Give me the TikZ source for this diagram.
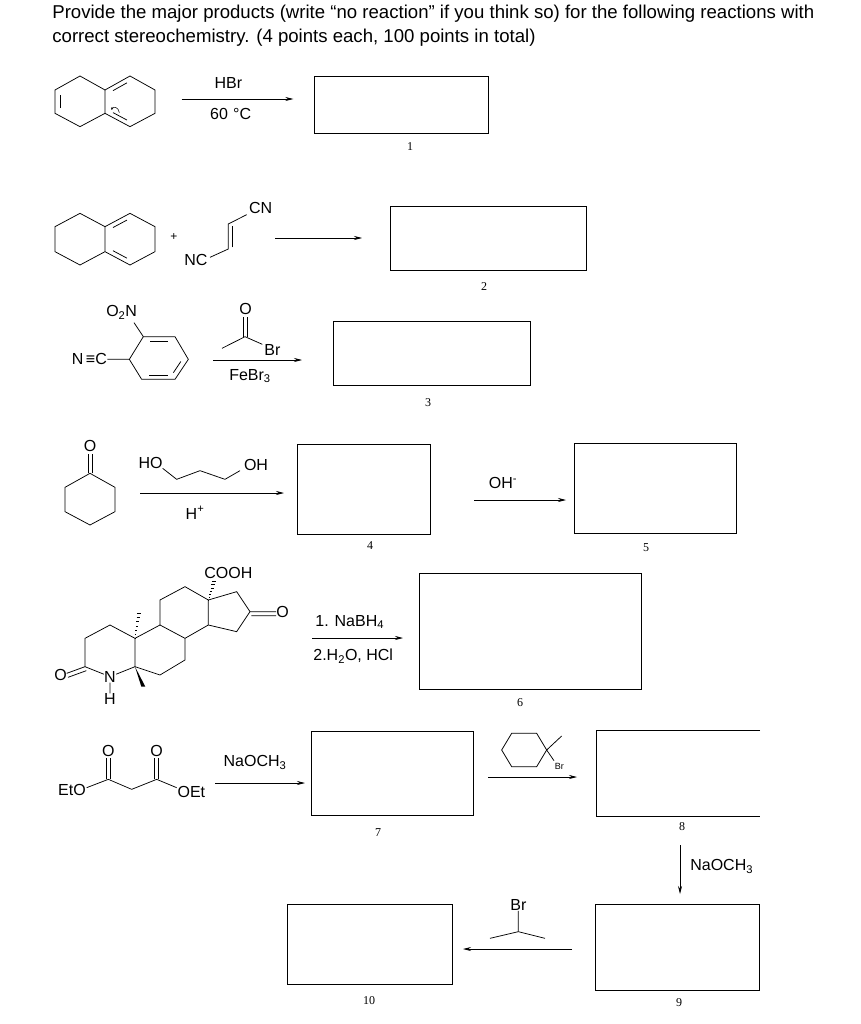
\documentclass[tikz,border=0pt]{standalone}
\usepackage{fontspec}
\setmainfont{Liberation Sans}
\newfontfamily\numfont{Liberation Serif}
\usetikzlibrary{arrows.meta,calc}
\newcommand\ringdb[3]{\draw ($($(#1)!.15!(#2)$)!.2!(#3)$) -- ($($(#2)!.15!(#1)$)!.2!(#3)$);}
\newcommand\hashup[3]{\foreach \k in {0,...,6}{\draw[line width=0.5pt] ($(#1)!\k/6!(#2)$) ++(-{0.5+\k*#3},0) -- ++({1+2*\k*#3},0);}}
\begin{document}
\begin{tikzpicture}[x=1pt,y=-1pt,line width=0.75pt,
  lbl/.style={font=\fontsize{16}{18}\selectfont,inner sep=0pt},
  sm/.style={font=\fontsize{12}{14}\selectfont,inner sep=0pt},
  num/.style={font=\numfont\fontsize{12}{13}\selectfont,inner sep=0pt},
  rx/.style={-{Stealth[length=8pt,width=4pt]},line width=0.7pt},
  box/.style={draw,line width=0.9pt}]
\useasboundingbox (0,0) rectangle (860,1024);
\fill[white] (0,0) rectangle (860,1024);
% title
\node[anchor=west,font=\fontsize{18.6}{22}\selectfont,inner sep=0pt] (t1) at (52,14) {Provide the major products (write “no reaction” if you think so) for the following reactions with};
\node[anchor=west,font=\fontsize{18.6}{22}\selectfont,inner sep=0pt] (t2) at (52,38) {correct stereochemistry. (4 points each, 100 points in total)};

% ===== Row 1 =====
\begin{scope}[shift={(40,60)},scale=1/3]
\coordinate (l1) at (120,48); \coordinate (l2) at (195,90); \coordinate (l3) at (195,160);
\coordinate (l4) at (120,200); \coordinate (l5) at (45,160); \coordinate (l6) at (45,90);
\coordinate (r1) at (270,48); \coordinate (r2) at (345,90); \coordinate (r3) at (345,160); \coordinate (r4) at (270,200);
\coordinate (cl) at (120,125); \coordinate (cr) at (270,125);
\draw (l1)--(l2)--(l3)--(l4)--(l5)--(l6)--cycle;
\draw (l2)--(r1)--(r2)--(r3)--(r4)--(l3);
\ringdb{l5}{l6}{cl} \ringdb{l2}{r1}{cr} \ringdb{l3}{r4}{cr}
\draw[-{Stealth[length=2.5pt,width=2.5pt]},line width=0.5pt] (238,158) .. controls (236,140) and (218,138) .. (215,150);
\coordinate (a1s) at (425,117); \coordinate (a1e) at (760,117);
\node[lbl] (hbr) at (565,68) {HBr};
\node[lbl] (tc) at (572,162) {60\,\,°C};
\end{scope}
\draw[rx] (a1s) -- (a1e);
\node[box,minimum width=174pt,minimum height=57pt,inner sep=0pt] (b1) at (401,104.5) {};
\node[num] (n1) at (410,147) {1};

% ===== Row 2 =====
\begin{scope}[shift={(40,60)},scale=1/3]
\coordinate (m1) at (120,460); \coordinate (m2) at (195,500); \coordinate (m3) at (195,575);
\coordinate (m4) at (120,615); \coordinate (m5) at (45,575); \coordinate (m6) at (45,500);
\coordinate (s1) at (270,460); \coordinate (s2) at (345,500); \coordinate (s3) at (345,575); \coordinate (s4) at (270,615);
\coordinate (cs) at (270,537);
\draw (m1)--(m2)--(m3)--(m4)--(m5)--(m6)--cycle;
\draw (m2)--(s1)--(s2)--(s3)--(s4)--(m3);
\ringdb{m2}{s1}{cs} \ringdb{m3}{s4}{cs}
\node[sm] (plus) at (402,532) {+};
\node[lbl] (nc) at (468,600) {NC};
\node[lbl] (cn) at (662,443) {CN};
\draw (510,592) -- (565,567) -- (565,492) -- (620,464);
\draw (577,562) -- (577,497);
\end{scope}
\draw[rx] (275,238) -- (362,238);
\node[box,minimum width=196pt,minimum height=64pt,inner sep=0pt] (b2) at (488,238) {};
\node[num] (n2) at (484,287) {2};

% ===== Row 3 =====
\begin{scope}[shift={(40,290)},scale=1/3]
\coordinate (p1) at (310,140); \coordinate (p2) at (405,140); \coordinate (p3) at (445,208);
\coordinate (p4) at (405,268); \coordinate (p5) at (305,268); \coordinate (p6) at (268,208);
\coordinate (pc) at (357,204);
\draw (p1)--(p2)--(p3)--(p4)--(p5)--(p6)--cycle;
\ringdb{p1}{p2}{pc} \ringdb{p3}{p4}{pc} \ringdb{p4}{p5}{pc}
\node[lbl] (o2n) at (245,68) {O\textsubscript{2}N};
\draw (p1) -- (282,98);
\node[lbl] (nec) at (148,208) {N\,\symbol{"2261}C};
\draw (202,208) -- (p6);
\node[lbl] (oac) at (617,58) {O};
\draw (546,175) -- (615,140) -- (667,163);
\draw (609,140) -- (609,82); \draw (621,140) -- (621,82);
\node[lbl] (br3) at (697,180) {Br};
\node[lbl] (fe) at (630,258) {FeBr\textsubscript{3}};
\end{scope}
\draw[rx] (213,360) -- (302,360);
\node[box,minimum width=197pt,minimum height=64pt,inner sep=0pt] (b3) at (431.5,353) {};
\node[num] (n3) at (428,403) {3};

% ===== Row 4 =====
\begin{scope}[shift={(40,290)},scale=1/3]
\coordinate (k1) at (150,550); \coordinate (k2) at (225,592); \coordinate (k3) at (225,665);
\coordinate (k4) at (150,705); \coordinate (k5) at (75,665); \coordinate (k6) at (75,592);
\draw (k1)--(k2)--(k3)--(k4)--(k5)--(k6)--cycle;
\node[lbl] (ko) at (150,468) {O};
\draw (144,550) -- (144,492); \draw (156,550) -- (156,492);
\node[lbl] (ho) at (332,520) {HO};
\node[lbl] (oh) at (648,525) {OH};
\draw (368,535) -- (410,568) -- (480,542) -- (555,568) -- (600,542);
\node[lbl] (hp) at (465,668) {H\textsuperscript{+}};
\end{scope}
\draw[rx] (140,493) -- (284,493);
\node[box,minimum width=133pt,minimum height=90pt,inner sep=0pt] (b4) at (363.5,489) {};
\node[num] (n4) at (370,546) {4};
\draw[rx] (474,500) -- (566,500);
\node[lbl] (ohm) at (503,483) {OH\textsuperscript{-}};
\node[box,minimum width=162pt,minimum height=90pt,inner sep=0pt] (b5) at (655,488) {};
\node[num] (n5) at (646,548) {5};

% ===== Row 5 steroid =====
\begin{scope}[shift={(40,560)},scale=1/3]
\coordinate (a1) at (210,195); \coordinate (a2) at (285,235); \coordinate (a3) at (285,320);
\coordinate (a5) at (135,320); \coordinate (a6) at (135,235);
\coordinate (b1) at (360,195); \coordinate (b2) at (435,235); \coordinate (b3) at (435,300); \coordinate (b4) at (360,345);
\coordinate (c1) at (360,120); \coordinate (c2) at (435,80); \coordinate (c3) at (505,120); \coordinate (c4) at (505,195);
\coordinate (d1) at (590,95); \coordinate (d2) at (630,155); \coordinate (d3) at (590,215);
\node[lbl] (nn) at (210,350) {N};
\node[lbl] (nh) at (210,418) {H};
\draw (nn) -- (nh);
\draw (nn) -- (a5) -- (a6) -- (a1) -- (a2) -- (a3) -- (nn);
\draw (a2) -- (b1) -- (b2) -- (b3) -- (b4) -- (a3);
\draw (b1) -- (c1) -- (c2) -- (c3) -- (c4) -- (b2);
\draw (c3) -- (d1) -- (d2) -- (d3) -- (c4);
\node[lbl] (lo) at (62,345) {O};
\draw (a5) -- (80,340); \draw ($(a5)+(4,12)$) -- (84,352);
\node[lbl] (ko2) at (728,155) {O};
\draw (d2) -- (708,155); \draw ($(d2)+(4,12)$) -- (708,167);
\node[lbl] (cooh) at (565,40) {COOH};
\hashup{c3}{510,65}{1.0}
\hashup{a2}{285,160}{1.0}
\fill (a3) -- ($(310,380)+(-6,0)$) -- ($(310,380)+(6,0)$) -- cycle;
\end{scope}
\draw[rx] (312,638) -- (403,638);
\node[lbl,anchor=west] (nab) at (315,622) {1. NaBH\textsubscript{4}};
\node[lbl,anchor=west] (h2o) at (313,656) {2.H\textsubscript{2}O, HCl};
\node[box,minimum width=222pt,minimum height=116pt,inner sep=0pt] (b6) at (530,631) {};
\node[num] (n6) at (520,703) {6};

% ===== Row 6 =====
\begin{scope}[shift={(40,720)},scale=1/3]
\node[lbl] (eto) at (96,210) {EtO};
\node[lbl] (oet) at (454,215) {OEt};
\draw (140,203) -- (205,178) -- (275,208) -- (350,178) -- (410,203);
\draw (199,178) -- (199,115); \draw (211,178) -- (211,115);
\draw (344,178) -- (344,115); \draw (356,178) -- (356,115);
\node[lbl] (o1) at (205,92) {O};
\node[lbl] (o2) at (350,92) {O};
\node[lbl] (na1) at (645,128) {NaOCH\textsubscript{3}};
\end{scope}
\draw[rx] (215,783) -- (305,783);
\node[box,minimum width=162pt,minimum height=84pt,inner sep=0pt] (b7) at (392,773) {};
\node[num] (n7) at (378,833) {7};

\begin{scope}[shift={(480,720)},scale=1/3]
\coordinate (h1) at (95,40); \coordinate (h2) at (170,40); \coordinate (h3) at (200,90);
\coordinate (h4) at (170,140); \coordinate (h5) at (95,140); \coordinate (h6) at (65,90);
\draw (h1)--(h2)--(h3)--(h4)--(h5)--(h6)--cycle;
\draw (h3) -- (245,48); \draw (h3) -- (222,122);
\node[font=\fontsize{9}{10}\selectfont,inner sep=0pt] (brs) at (238,138) {Br};
\coordinate (box8a) at (840,32); \coordinate (box8b) at (348,32);
\coordinate (box8c) at (348,288); \coordinate (box8d) at (840,288);
\node[lbl] (na2) at (725,440) {NaOCH\textsubscript{3}};
\node[lbl] (br4) at (115,555) {Br};
\draw (br4) -- (115,635); \draw (30,655) -- (115,635) -- (195,655);
\end{scope}
\draw[rx] (488,777) -- (577,777);
\draw[line width=0.9pt] (box8a) -- (box8b) -- (box8c) -- (box8d);
\node[num] (n8) at (682,827) {8};
\draw[rx] (680,845) -- (680,894);
\node[box,minimum width=164pt,minimum height=86pt,inner sep=0pt] (b9) at (677,947) {};
\node[num] (n9) at (679,1003) {9};
\draw[rx] (572,949) -- (463,949);
\node[box,minimum width=165pt,minimum height=80pt,inner sep=0pt] (b10) at (369.5,944) {};
\node[num] (n10) at (369,1001) {10};
\end{tikzpicture}
\end{document}
